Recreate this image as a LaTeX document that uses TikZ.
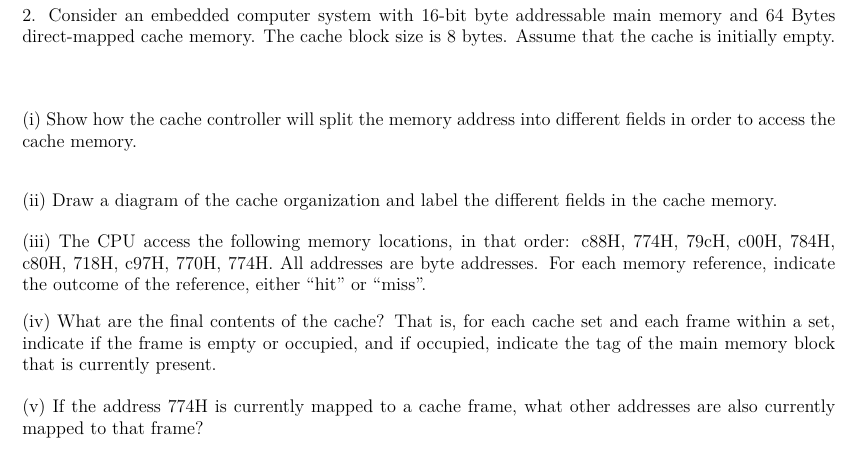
\documentclass[tikz,border=0pt]{standalone}
\begin{document}
\begin{tikzpicture}[x=0.69pt,y=-0.69pt,
  para/.style={anchor=north west,inner sep=0pt,text width=561pt,align=justify,font=\fontsize{12.6}{14.6}\selectfont}]
\useasboundingbox (0,0) rectangle (858,471);
\node[para] (p1) at (22,8) {2. Consider an embedded computer system with 16-bit byte addressable main memory and 64 Bytes direct-mapped cache memory. The cache block size is 8 bytes. Assume that the cache is initially empty.};
\node[para] (p2) at (22,112) {(i) Show how the cache controller will split the memory address into different fields in order to access the cache memory.};
\node[para] (p3) at (22,193) {(ii) Draw a diagram of the cache organization and label the different fields in the cache memory.};
\node[para] (p4) at (22,234) {(iii) The CPU access the following memory locations, in that order: c88H, 774H, 79cH, c00H, 784H, c80H, 718H, c97H, 770H, 774H. All addresses are byte addresses. For each memory reference, indicate the outcome of the reference, either ``hit'' or ``miss''.};
\node[para] (p5) at (22,314) {(iv) What are the final contents of the cache? That is, for each cache set and each frame within a set, indicate if the frame is empty or occupied, and if occupied, indicate the tag of the main memory block that is currently present.};
\node[para] (p6) at (22,399) {(v) If the address 774H is currently mapped to a cache frame, what other addresses are also currently mapped to that frame?};
\end{tikzpicture}
\end{document}
